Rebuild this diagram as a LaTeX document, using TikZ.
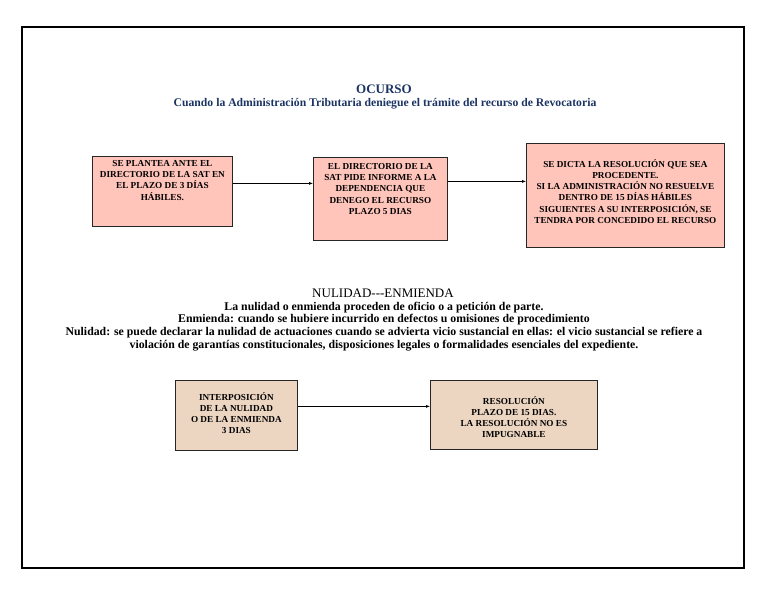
\documentclass[tikz,border=0pt]{standalone}
\usepackage{fontspec}
\setmainfont{Liberation Serif}
\usetikzlibrary{arrows.meta}
\definecolor{pinkfill}{RGB}{255,196,186}
\definecolor{tanfill}{RGB}{236,214,194}
\definecolor{navy}{RGB}{28,52,100}

\begin{document}
\begin{tikzpicture}[x=1pt, y=-1pt,
  flowbox/.style={draw=black!85, line width=0.8pt, anchor=north west, inner xsep=2pt, inner ysep=0pt,
    font=\bfseries\fontsize{9.2}{11.2}\selectfont},
  pinkbox/.style={flowbox, fill=pinkfill},
  tanbox/.style={flowbox, fill=tanfill},
  flowarrow/.style={-{Latex[length=4pt, width=3pt]}, line width=0.6pt}]
\useasboundingbox (0,0) rectangle (768,594);
\draw[line width=1.4pt] (22,27) rectangle (744,568);
% titles
\node[text=navy, font=\bfseries\fontsize{13}{15}\selectfont] (ocurso) at (384,89) {OCURSO};
\node[text=navy, font=\bfseries\fontsize{11.7}{13}\selectfont] (cuando) at (385,104) {Cuando la Administración Tributaria deniegue el trámite del recurso de Revocatoria};
% upper row
\node[pinkbox] (plantea) at (92,156) {\begin{minipage}[t][70pt][t]{136pt}\centering\vspace*{4pt}SE PLANTEA ANTE EL\\ DIRECTORIO DE LA SAT EN\\ EL PLAZO DE 3 DÍAS\\ HÁBILES.\end{minipage}};
\node[pinkbox] (directorio) at (313,157) {\begin{minipage}[t][83pt][t]{130pt}\centering\vspace*{6pt}EL DIRECTORIO DE LA\\ SAT PIDE INFORME A LA\\ DEPENDENCIA QUE\\ DENEGO EL RECURSO\\ PLAZO 5 DIAS\end{minipage}};
\node[pinkbox] (dicta) at (526,143) {\begin{minipage}[t][104pt][t]{194pt}\centering\vspace*{16pt}SE DICTA LA RESOLUCIÓN QUE SEA\\ PROCEDENTE.\\ SI LA ADMINISTRACIÓN NO RESUELVE\\ DENTRO DE 15 DÍAS HÁBILES\\ SIGUIENTES A SU INTERPOSICIÓN, SE\\ TENDRA POR CONCEDIDO EL RECURSO\end{minipage}};
\draw[flowarrow] ([yshift=8pt]plantea.east) coordinate (a1) -- (a1 -| directorio.west);
\draw[flowarrow] ([yshift=17.5pt]directorio.east) coordinate (a2) -- (a2 -| dicta.west);
% nulidad text
\node[font=\fontsize{13}{15}\selectfont] (nulidad) at (383,293) {NULIDAD-{}-{}-ENMIENDA};
\node[anchor=north, align=center, inner sep=0pt, font=\bfseries\fontsize{11.8}{12.8}\selectfont] (explica) at (384,301.5) {La nulidad o enmienda proceden de oficio o a petición de parte.\\
Enmienda: cuando se hubiere incurrido en defectos u omisiones de procedimiento\\
Nulidad: se puede declarar la nulidad de actuaciones cuando se advierta vicio sustancial en ellas: el vicio sustancial se refiere a\\
violación de garantías constitucionales, disposiciones legales o formalidades esenciales del expediente.};
% lower row
\node[tanbox] (interpone) at (175,380) {\begin{minipage}[t][70pt][t]{118pt}\centering\vspace*{12pt}INTERPOSICIÓN\\ DE LA NULIDAD\\ O DE LA ENMIENDA\\ 3 DIAS\end{minipage}};
\node[tanbox] (resuelve) at (430,380) {\begin{minipage}[t][69pt][t]{163pt}\centering\vspace*{16pt}RESOLUCIÓN\\ PLAZO DE 15 DIAS.\\ LA RESOLUCIÓN NO ES\\ IMPUGNABLE\end{minipage}};
\draw[flowarrow] ([yshift=9pt]interpone.east) coordinate (a3) -- (a3 -| resuelve.west);
\end{tikzpicture}
\end{document}
